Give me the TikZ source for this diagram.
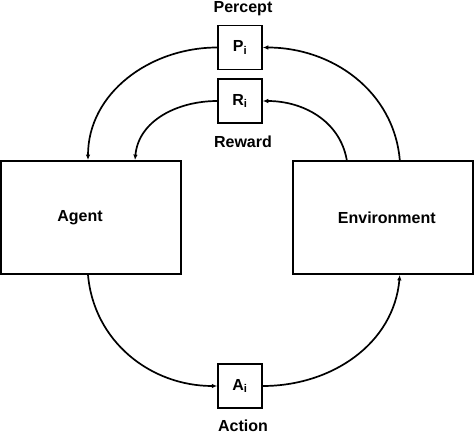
\documentclass[tikz,border=0pt]{standalone}
\usepackage{fontspec}
\setmainfont{Liberation Sans}
\usetikzlibrary{arrows.meta,positioning}

\begin{document}
\begin{tikzpicture}[x=1pt,y=1pt,
 blk/.style={rectangle,draw,line width=1.8pt,minimum width=180pt,minimum height=113pt,font=\bfseries\fontsize{16}{18}\selectfont},
 sq/.style={rectangle,draw,line width=1.5pt,minimum size=44pt,inner sep=0pt,font=\bfseries\fontsize{16}{18}\selectfont},
 lbl/.style={anchor=base,inner sep=0pt,font=\bfseries\fontsize{16}{18}\selectfont},
 arr/.style={-{Latex[length=5.5pt,width=4.5pt]},line width=1.7pt},
 node distance=8pt and 110pt
]
\useasboundingbox (0,0) rectangle (474,434);
\node[blk] (agent) at (91,216.5) {\raisebox{-4pt}{Agent}\hspace*{22pt}};
\node[blk,right=of agent] (env) {\hspace*{8pt}Environment};
\node[sq] (pbox) at (240,386.5) {P\textsubscript{i}};
\node[sq,below=of pbox] (rbox) {R\textsubscript{i}};
\node[sq] (abox) at (240,48) {A\textsubscript{i}};
\node[lbl] (percept) at (243,421) {Percept};
\node[lbl] (reward) at (243,286) {Reward};
\node[lbl] (action) at (243,3) {Action};

\draw[arr] ([xshift=17pt]env.north) to[out=95,in=0] (pbox.east);
\draw[arr] (pbox.west) to[out=180,in=90] ([xshift=-3pt]agent.north);
\draw[arr] ([xshift=-36pt]env.north) to[out=100,in=0] (rbox.east);
\draw[arr] (rbox.west) to[out=180,in=85] ([xshift=44pt]agent.north);
\draw[arr] ([xshift=-3pt]agent.south) to[out=-85,in=180] (abox.west);
\draw[arr] (abox.east) to[out=0,in=-95] ([xshift=17pt]env.south);
\end{tikzpicture}
\end{document}
